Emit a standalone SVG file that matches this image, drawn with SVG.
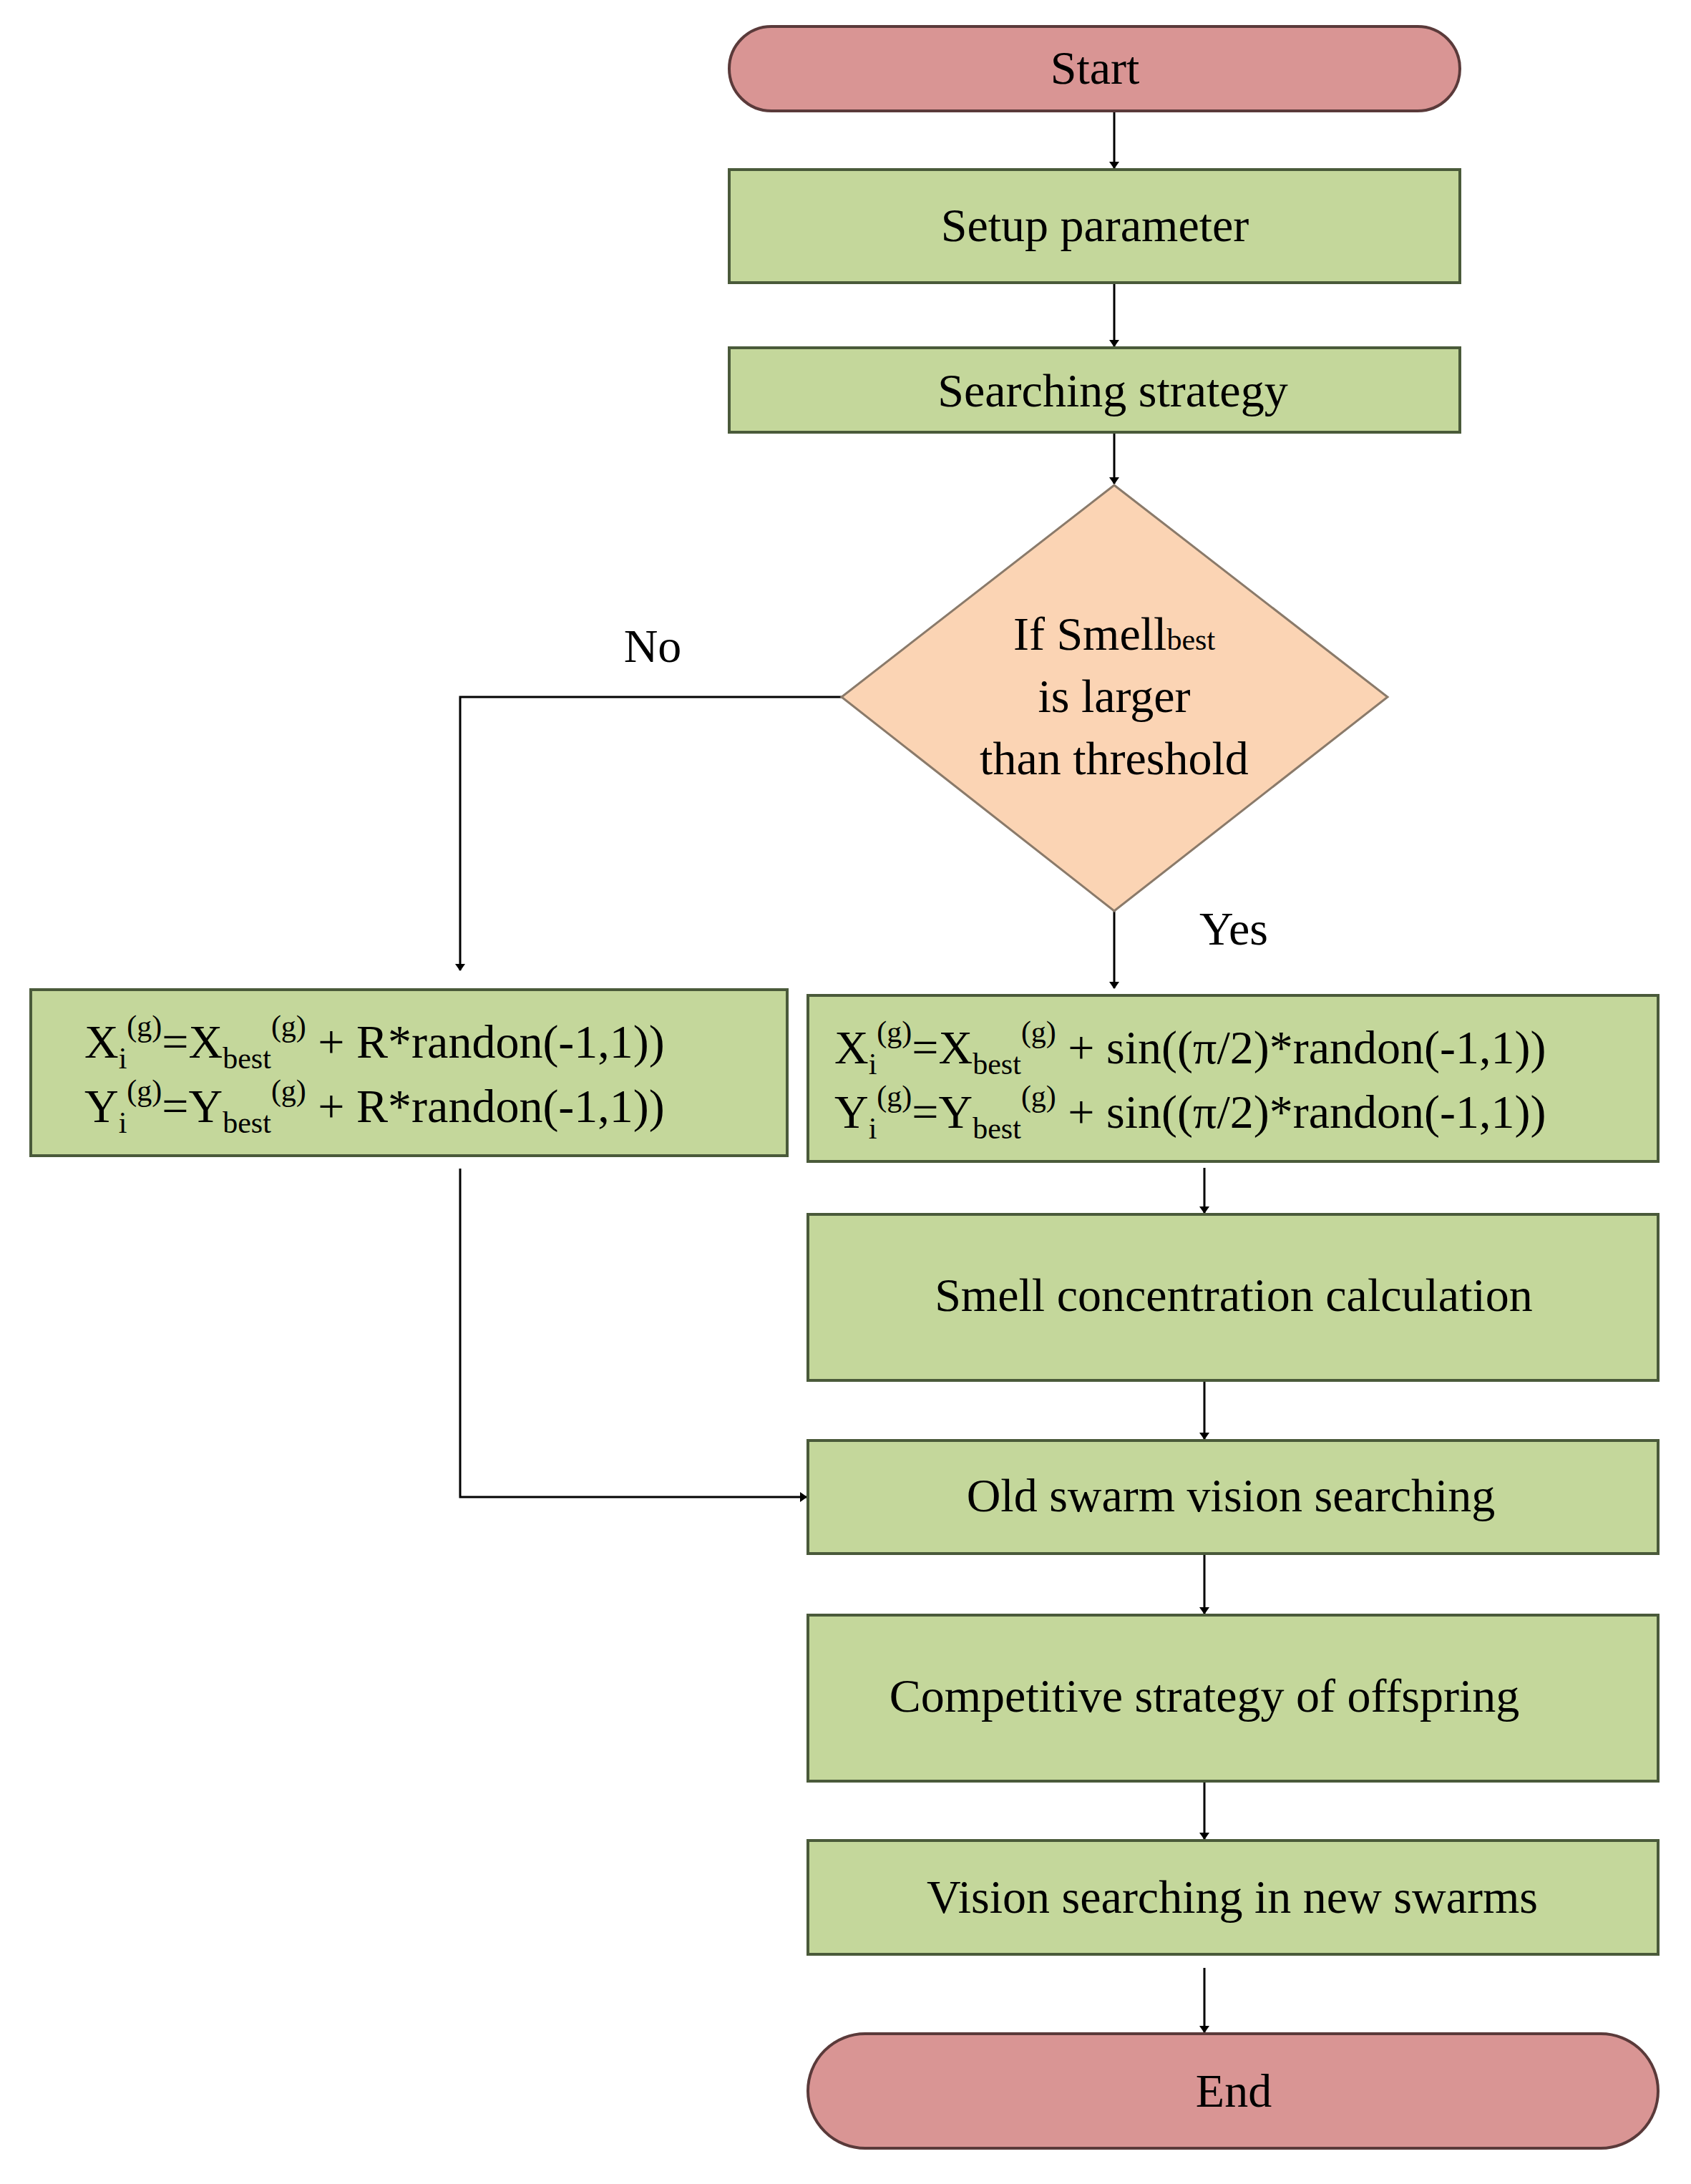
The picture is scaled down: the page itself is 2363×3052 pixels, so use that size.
<svg xmlns="http://www.w3.org/2000/svg" width="2363" height="3052" viewBox="0 0 2363 3052">
<style>
text{font-family:"Liberation Serif","Times New Roman",serif;font-size:66px;fill:#000}
.c{text-anchor:middle}
.g{fill:#c4d79b;stroke:#4a5a3a;stroke-width:4}
.r{fill:#d99594;stroke:#5a3a3a;stroke-width:4}
.d{fill:#fbd4b4;stroke:#8a7a6a;stroke-width:3}
.l{fill:none;stroke:#000;stroke-width:3;marker-end:url(#a)}
.s{font-size:42px}
</style>
<defs><marker id="a" markerWidth="10" markerHeight="14" refX="9" refY="7" orient="auto" markerUnits="userSpaceOnUse" viewBox="0 0 10 14"><path d="M0,0 L10,7 L0,14 z" fill="#000"/></marker></defs>
<rect width="2363" height="3052" fill="#fff"/>
<g id="connectors">
<path class="l" d="M1557,155 V235"/>
<path class="l" d="M1557,395 V484"/>
<path class="l" d="M1557,604 V676"/>
<path class="l" d="M1176,974 H643 V1356"/>
<path class="l" d="M1557,1273 V1381"/>
<path class="l" d="M1683,1632 V1695"/>
<path class="l" d="M1683,1929 V2011"/>
<path class="l" d="M643,1633 V2092 H1127"/>
<path class="l" d="M1683,2171 V2255"/>
<path class="l" d="M1683,2489 V2570"/>
<path class="l" d="M1683,2750 V2840"/>
<text class="c" x="912" y="925">No</text>
<text class="c" x="1724" y="1320">Yes</text>
</g>
<g id="start"><rect class="r" x="1019" y="37" width="1021" height="118" rx="59"/><text class="c" x="1530" y="117">Start</text></g>
<g id="setup"><rect class="g" x="1019" y="237" width="1021" height="158"/><text class="c" x="1530" y="337">Setup parameter</text></g>
<g id="search"><rect class="g" x="1019" y="486" width="1021" height="118"/><text class="c" x="1555" y="568">Searching strategy</text></g>
<g id="decision"><polygon class="d" points="1557,678 1939,974 1557,1273 1176,974"/>
<text class="c" x="1557" y="908">If Smell<tspan class="s">best</tspan></text>
<text class="c" x="1557" y="995">is larger</text>
<text class="c" x="1557" y="1082">than threshold</text></g>
<g id="leftformula"><rect class="g" x="43" y="1383" width="1057" height="232"/>
<text x="118" y="1478">X<tspan class="s" dy="15">i</tspan><tspan class="s" dy="-45">(g)</tspan><tspan dy="30">=X</tspan><tspan class="s" dy="15">best</tspan><tspan class="s" dy="-45">(g)</tspan><tspan dy="30"> + R*randon(-1,1))</tspan></text>
<text x="118" y="1568">Y<tspan class="s" dy="15">i</tspan><tspan class="s" dy="-45">(g)</tspan><tspan dy="30">=Y</tspan><tspan class="s" dy="15">best</tspan><tspan class="s" dy="-45">(g)</tspan><tspan dy="30"> + R*randon(-1,1))</tspan></text></g>
<g id="rightformula"><rect class="g" x="1129" y="1391" width="1188" height="232"/>
<text x="1166" y="1486">X<tspan class="s" dy="15">i</tspan><tspan class="s" dy="-45">(g)</tspan><tspan dy="30">=X</tspan><tspan class="s" dy="15">best</tspan><tspan class="s" dy="-45">(g)</tspan><tspan dy="30"> + sin((π/2)*randon(-1,1))</tspan></text>
<text x="1166" y="1576">Y<tspan class="s" dy="15">i</tspan><tspan class="s" dy="-45">(g)</tspan><tspan dy="30">=Y</tspan><tspan class="s" dy="15">best</tspan><tspan class="s" dy="-45">(g)</tspan><tspan dy="30"> + sin((π/2)*randon(-1,1))</tspan></text></g>
<g id="smell"><rect class="g" x="1129" y="1697" width="1188" height="232"/><text class="c" x="1724" y="1832">Smell concentration calculation</text></g>
<g id="old"><rect class="g" x="1129" y="2013" width="1188" height="158"/><text class="c" x="1720" y="2112">Old swarm vision searching</text></g>
<g id="comp"><rect class="g" x="1129" y="2257" width="1188" height="232"/><text class="c" x="1683" y="2392">Competitive strategy of offspring</text></g>
<g id="vision"><rect class="g" x="1129" y="2572" width="1188" height="159"/><text class="c" x="1722" y="2673">Vision searching in new swarms</text></g>
<g id="end"><rect class="r" x="1129" y="2842" width="1188" height="160" rx="80"/><text class="c" x="1724" y="2944">End</text></g>
</svg>
